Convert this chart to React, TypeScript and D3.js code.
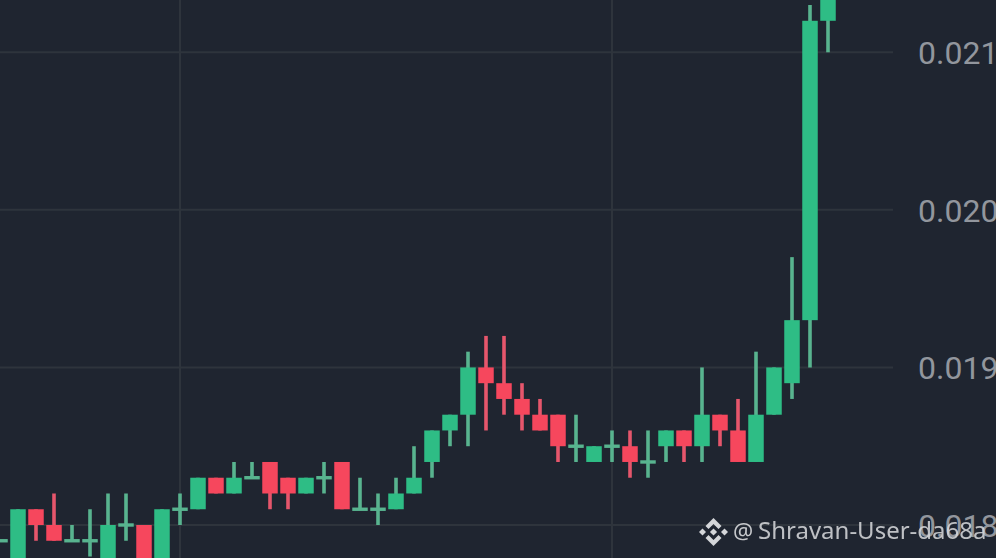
import React from "react";
import * as d3 from "d3";

const W = 996, H = 558;
const opens = [.0179,.0176,.0181,.0180,.0179,.0179,.0177,.0180,.0180,.0176,.0181,.0181,.0183,.0182,.0183,.0184,.0183,.0182,.0183,.0184,.0181,.0181,.0181,.0182,.0184,.0186,.0187,.0190,.0189,.0188,.0187,.0187,.0185,.0184,.0185,.0185,.0184,.0185,.0186,.0185,.0187,.0186,.0184,.0187,.0189,.0193,.0212];
const closes = [.0179,.0181,.0180,.0179,.0179,.0179,.0180,.0180,.0177,.0181,.0181,.0183,.0182,.0183,.0183,.0182,.0182,.0183,.0183,.0181,.0181,.0181,.0182,.0183,.0186,.0187,.0190,.0189,.0188,.0187,.0186,.0185,.0185,.0185,.0185,.0184,.0184,.0186,.0185,.0187,.0186,.0184,.0187,.0190,.0193,.0212,.0217];
const highs = [.0179,.0181,.0181,.0182,.0180,.0181,.0182,.0182,.0180,.0181,.0182,.0183,.0183,.0184,.0184,.0184,.0183,.0183,.0184,.0184,.0183,.0182,.0183,.0185,.0186,.0187,.0191,.0192,.0192,.0189,.0188,.0187,.0187,.0185,.0186,.0186,.0186,.0186,.0186,.0190,.0187,.0188,.0191,.0190,.0197,.0213,.0217];
const lows = [.0179,.0176,.0179,.0179,.0179,.0178,.0177,.0179,.0177,.0176,.0180,.0181,.0182,.0182,.0183,.0181,.0181,.0182,.0182,.0181,.0181,.0180,.0181,.0182,.0183,.0185,.0185,.0186,.0187,.0186,.0186,.0184,.0184,.0184,.0184,.0183,.0183,.0184,.0184,.0184,.0185,.0184,.0184,.0187,.0188,.0190,.0210];
const priceTicks = [0.018, 0.019, 0.02, 0.021];
const verticalGridSlots = [10, 34];
const watermark = "Shravan-User-da68a";

const UP = "#2ebd85", DOWN = "#f6465d", UPW = "#58b48f", DOWNW = "#e6566c";

const x = d3.scaleLinear().domain([0, 46]).range([0, 828]);
const y = d3.scaleLinear().domain([0.018, 0.021]).range([525, 52.3]);

export default function App() {
  const n = closes.length;
  const bodyW = 15.5;
  return (
    <svg width={W} height={H} viewBox={`0 0 ${W} ${H}`} style={{ position: "fixed", left: 0, top: 0, display: "block" }}>
      <defs>
        <filter id="soft" x="-5%" y="-5%" width="110%" height="110%"><feGaussianBlur stdDeviation="0.5" /></filter>
      </defs>
      <rect width={W} height={H} fill="#1f2530" />
      <g stroke="#2e343c" strokeWidth={2}>
        {priceTicks.map(t => <line key={t} x1={0} x2={893} y1={y(t)} y2={y(t)} />)}
        {verticalGridSlots.map(s => <line key={s} x1={x(s)} x2={x(s)} y1={0} y2={H} />)}
      </g>
      <g filter="url(#soft)">
        {d3.range(n).map(i => {
          const o = opens[i], c = closes[i];
          const up = c >= o;
          const top = y(Math.max(o, c)), bot = y(Math.min(o, c));
          const isDoji = o === c;
          const h = isDoji ? 3.4 : bot - top;
          const cx = x(i);
          return (
            <g key={i}>
              <line x1={cx} x2={cx} y1={y(highs[i])} y2={y(lows[i])} stroke={up ? UPW : DOWNW} strokeWidth={3.6} />
              <rect x={cx - bodyW / 2} y={isDoji ? top - 1.7 : top} width={bodyW} height={h} fill={isDoji ? UPW : up ? UP : DOWN} />
            </g>
          );
        })}
      </g>
      <g fill="#92969d" fontFamily="Roboto, sans-serif" fontSize={32}>
        {priceTicks.map(t => (
          <text key={t} x={918} y={y(t) + 12}>{d3.format(".3f")(t)}</text>
        ))}
      </g>
      <g transform="translate(713.5,532)" fill="#d4d6d9">
        <path d="M0,-14 L8,-6 L5,-3 L0,-8 L-5,-3 L-8,-6 Z" />
        <path d="M0,14 L8,6 L5,3 L0,8 L-5,3 L-8,6 Z" />
        <path d="M-14.5,0 L-11,-3.5 L-7.5,0 L-11,3.5 Z" />
        <path d="M14.5,0 L11,-3.5 L7.5,0 L11,3.5 Z" />
        <path d="M0,-3.6 L3.6,0 L0,3.6 L-3.6,0 Z" />
      </g>
      <text x={733} y={539} fill="#d4d6d9" fontFamily="'Noto Sans', sans-serif" fontSize={22.5} opacity={0.92}>@</text>
      <text x={758} y={539} fill="#d4d6d9" fontFamily="'Noto Sans', sans-serif" fontSize={24} opacity={0.88}>{watermark}</text>
    </svg>
  );
}
